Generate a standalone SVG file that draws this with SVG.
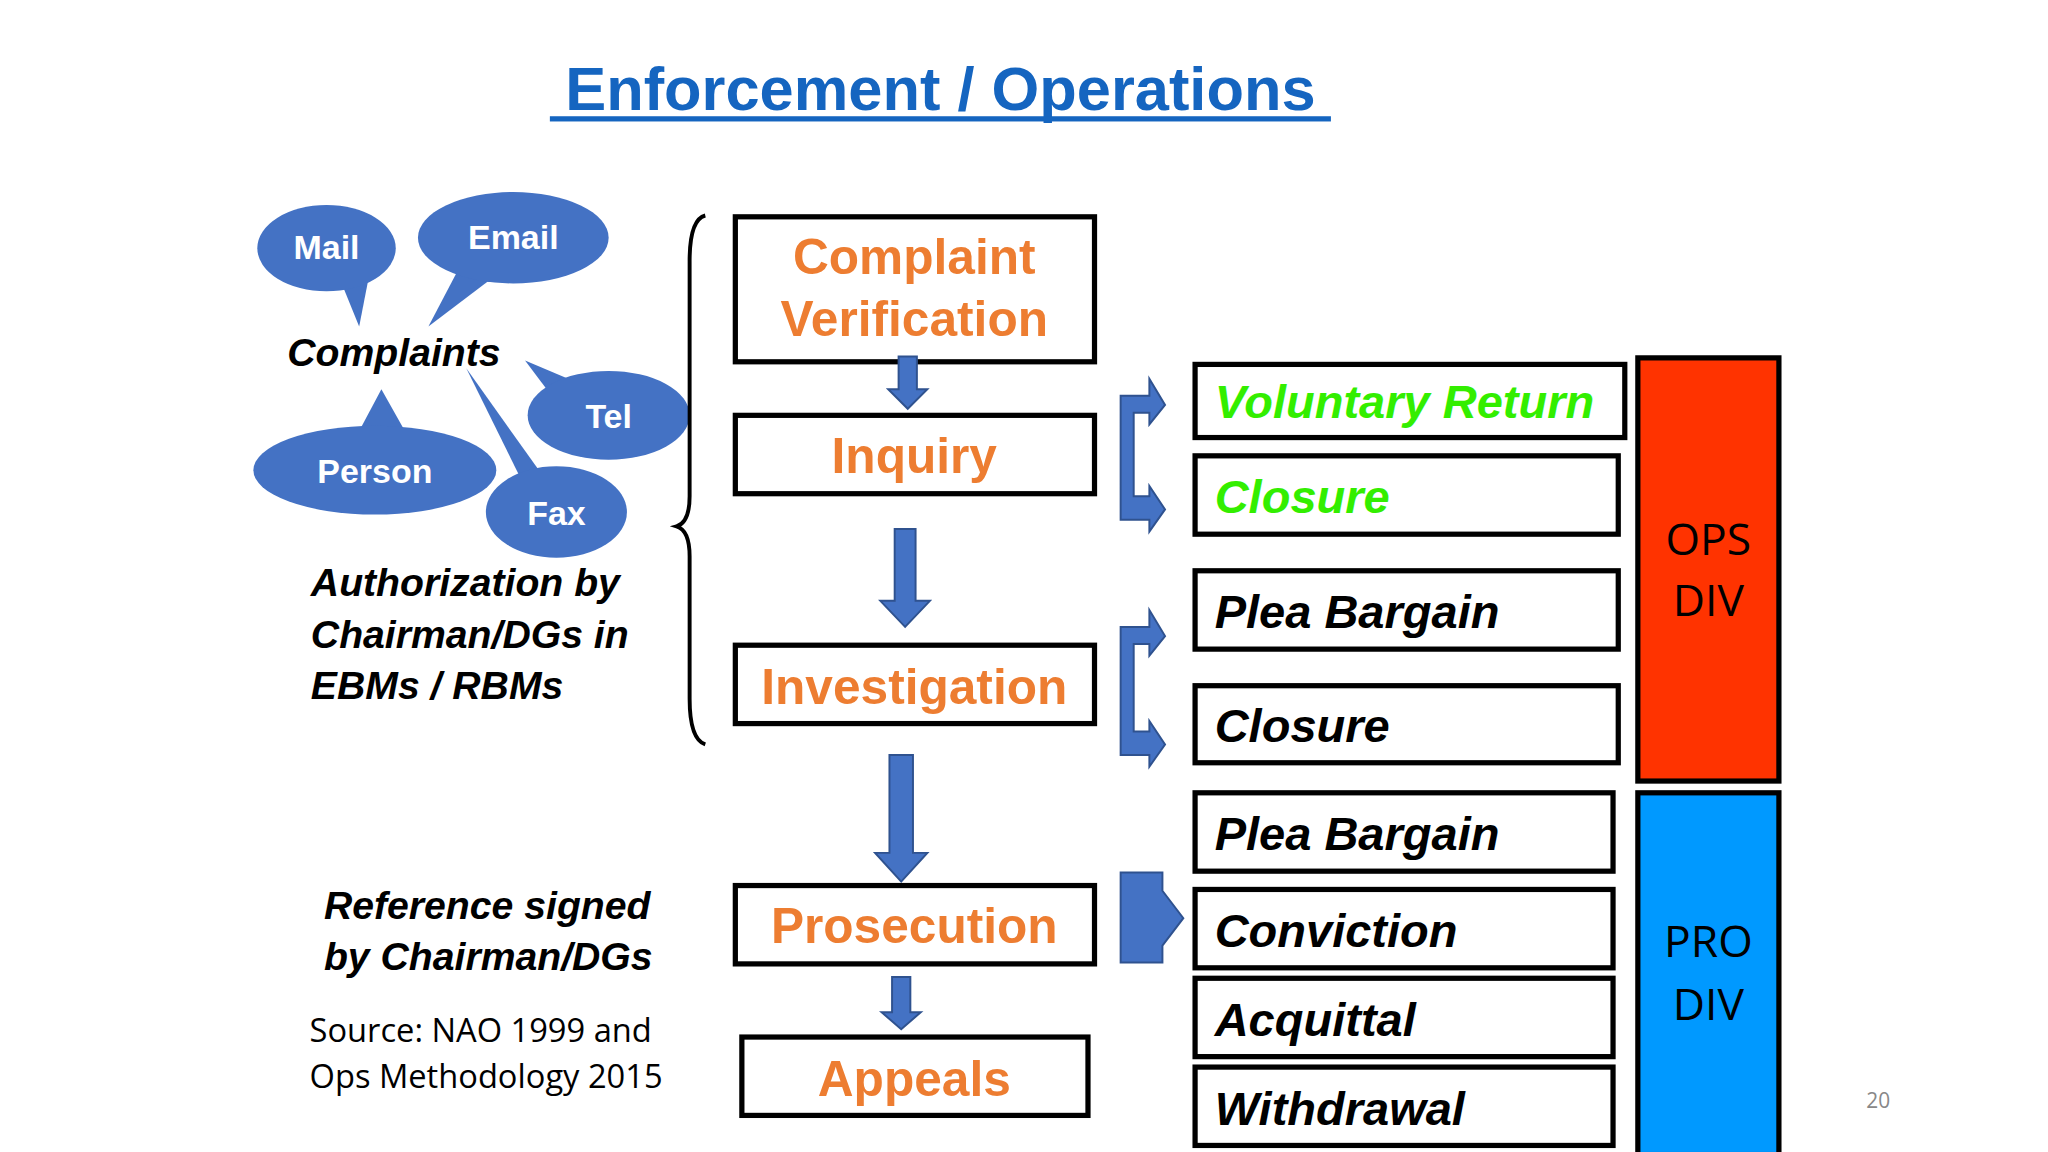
<svg xmlns="http://www.w3.org/2000/svg" width="2048" height="1152" viewBox="0 0 2048 1152">
<style>
.b{fill:#fff;stroke:#000;stroke-width:4}
.o{font-family:"Liberation Sans",Arial,sans-serif;font-weight:bold;fill:#ED7D31;font-size:38px;text-anchor:middle}
.g{font-family:"Liberation Sans",Arial,sans-serif;font-weight:bold;font-style:italic;fill:#33EE00;font-size:36px}
.k{font-family:"Liberation Sans",Arial,sans-serif;font-weight:bold;font-style:italic;fill:#000;font-size:36px}
.t{font-family:"Liberation Sans",Arial,sans-serif;font-weight:bold;font-style:italic;fill:#000;font-size:30px}
.w{font-family:"Liberation Sans",Arial,sans-serif;font-weight:bold;fill:#fff;font-size:26px;text-anchor:middle}
.bl{fill:#4472C4}
.ar{fill:#4472C4;stroke:#2F528F;stroke-width:1.5}
.d{font-family:"Open Sans","Liberation Sans",sans-serif;font-size:34px;text-anchor:middle;fill:#000}
</style>
<rect width="2048" height="1152" fill="#fff"/>
<g transform="scale(1.3061)">
<g id="title">
<text x="720" y="84" text-anchor="middle" font-family="Liberation Sans,Arial,sans-serif" font-weight="bold" font-size="47" fill="#1565C0">Enforcement / Operations</text>
<rect x="421" y="89" width="598" height="4" fill="#1565C0"/>
</g>
<g id="bubbles">
<path class="bl" d="M262,218 L275,250 L282,214 Z"/>
<ellipse class="bl" cx="250" cy="190" rx="53" ry="33"/>
<path class="bl" d="M350,208 L328,250 L378,212 Z"/>
<ellipse class="bl" cx="393" cy="182" rx="73" ry="35"/>
<path class="bl" d="M420,300 L402,276 L440,292 Z"/>
<ellipse class="bl" cx="466" cy="318" rx="62" ry="34"/>
<path class="bl" d="M275,330 L292,298 L310,330 Z"/>
<ellipse class="bl" cx="287" cy="360" rx="93" ry="34"/>
<path class="bl" d="M398,365 L357,282 L414,362 Z"/>
<ellipse class="bl" cx="426" cy="392" rx="54" ry="35"/>
<text class="w" x="250" y="198">Mail</text>
<text class="w" x="393" y="191">Email</text>
<text class="w" x="466" y="328">Tel</text>
<text class="w" x="287" y="370">Person</text>
<text class="w" x="426" y="402">Fax</text>
</g>
<g id="labels">
<text class="t" x="220" y="280">Complaints</text>
<text class="t" x="238" y="456">Authorization by</text>
<text class="t" x="238" y="496">Chairman/DGs in</text>
<text class="t" x="238" y="535">EBMs / RBMs</text>
<text class="t" x="248" y="704">Reference signed</text>
<text class="t" x="248" y="743">by Chairman/DGs</text>
<text x="237" y="798" font-family="Open Sans,Liberation Sans,sans-serif" font-size="25">Source: NAO 1999 and</text>
<text x="237" y="833" font-family="Open Sans,Liberation Sans,sans-serif" font-size="25">Ops Methodology 2015</text>
<text x="1438" y="848" text-anchor="middle" font-family="Open Sans,Liberation Sans,sans-serif" font-size="16" fill="#888">20</text>
<path d="M540,165 Q528,168 528,200 L528,380 Q528,400 518,403 Q528,406 528,426 L528,535 Q528,566 540,570" fill="none" stroke="#000" stroke-width="3"/>
</g>
<g id="main">
<rect class="b" x="563" y="166" width="275" height="111"/>
<text class="o" x="700" y="210">Complaint</text>
<text class="o" x="700" y="257">Verification</text>
<rect class="b" x="563" y="318" width="275" height="60"/>
<text class="o" x="700" y="362">Inquiry</text>
<rect class="b" x="563" y="494" width="275" height="60"/>
<text class="o" x="700" y="539">Investigation</text>
<rect class="b" x="563" y="678" width="275" height="60"/>
<text class="o" x="700" y="722">Prosecution</text>
<rect class="b" x="568" y="794" width="265" height="60"/>
<text class="o" x="700" y="839">Appeals</text>
</g>
<g id="outcomes">
<rect class="b" x="915" y="279" width="329" height="56"/>
<text class="g" x="930" y="320">Voluntary Return</text>
<rect class="b" x="915" y="349" width="324" height="60"/>
<text class="g" x="930" y="393">Closure</text>
<rect class="b" x="915" y="437" width="324" height="60"/>
<text class="k" x="930" y="481">Plea Bargain</text>
<rect class="b" x="915" y="525" width="324" height="59"/>
<text class="k" x="930" y="568">Closure</text>
<rect class="b" x="915" y="607" width="320" height="60"/>
<text class="k" x="930" y="651">Plea Bargain</text>
<rect class="b" x="915" y="681" width="320" height="60"/>
<text class="k" x="930" y="725">Conviction</text>
<rect class="b" x="915" y="749" width="320" height="60"/>
<text class="k" x="930" y="793">Acquittal</text>
<rect class="b" x="915" y="817" width="320" height="60"/>
<text class="k" x="930" y="861">Withdrawal</text>
</g>
<g id="divs">
<rect x="1254" y="274" width="108" height="324" fill="#FF3300" stroke="#000" stroke-width="4"/>
<text class="d" x="1308" y="425">OPS</text>
<text class="d" x="1308" y="472">DIV</text>
<rect x="1254" y="607" width="108" height="277" fill="#0099FF" stroke="#000" stroke-width="4"/>
<text class="d" x="1308" y="733">PRO</text>
<text class="d" x="1308" y="781">DIV</text>
</g>
<g id="connectors">
<path class="ar" d="M688,273 H702 V298 H710 L695,313 L680,298 H688 Z"/>
<path class="ar" d="M685,405 H701 V460 H712 L693,480 L674,460 H685 Z"/>
<path class="ar" d="M681,578 H699 V653 H710 L690,675 L670,653 H681 Z"/>
<path class="ar" d="M683,748 H697 V775 H705 L690,788 L675,775 H683 Z"/>
<path class="ar" d="M858,398 V303 H880 V290 L892,310 L880,325 V316 H868 V380 H880 V372 L892,390 L880,407 V398 Z"/>
<path class="ar" d="M858,578 V480 H880 V467 L892,487 L880,502 V493 H868 V560 H880 V552 L892,570 L880,587 V578 Z"/>
<path class="ar" d="M858,668 H890 V682 L906,703 L890,724 V737 H858 Z"/>
</g>
</g>
</svg>
